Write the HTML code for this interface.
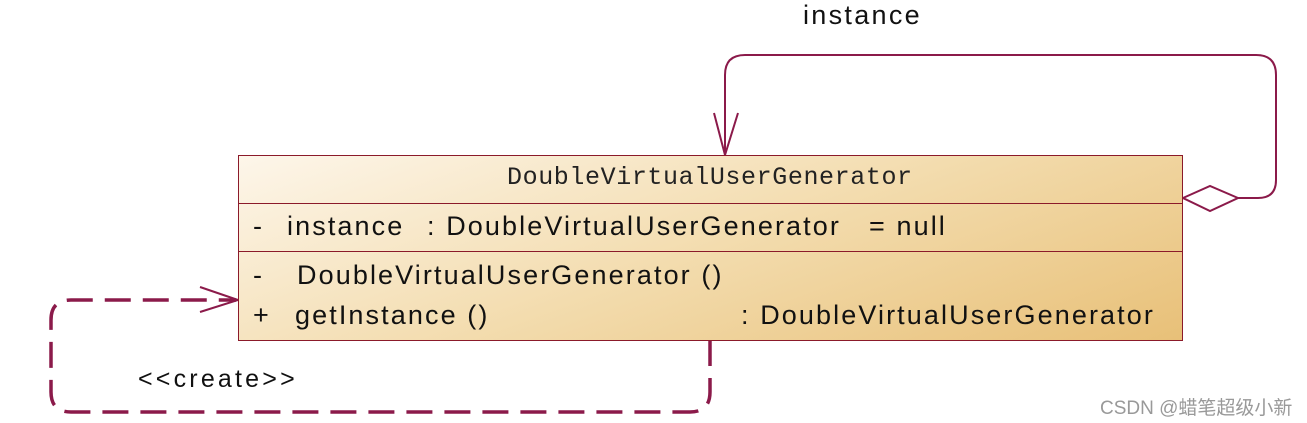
<!DOCTYPE html>
<html><head><meta charset="utf-8"><style>
body{margin:0;background:#fff;width:1307px;height:423px;overflow:hidden;position:relative;font-family:"Liberation Sans",sans-serif}
.box{position:absolute;left:238px;top:155px;width:943px;height:184px;border:1.5px solid #8b1a2a;background:linear-gradient(160deg,#fdf6ea 0%,#f3dcae 50%,#e8c078 100%)}
.t{position:absolute;font-size:27px;color:#111;white-space:pre;letter-spacing:2.1px}
.d{position:absolute;left:238px;width:945px;border-top:1.5px solid #8b1a2a}
</style></head><body>
<svg width="1307" height="423" style="position:absolute;left:0;top:0">
<g fill="none" stroke="#8b1a4a" stroke-width="2">
<path d="M725 155 V75 Q725 55 745 55 H1256 Q1276 55 1276 75 V180 Q1276 198 1258 198 H1238"/>
<path d="M714 113 L725 155 L738 113"/>
<path d="M1183 198 L1210 186 L1238 198 L1210 211 Z"/>
</g>
<g fill="none" stroke="#8b1a4a" stroke-width="3.5" stroke-dasharray="26 12">
<path d="M710 340 V392 Q710 412 690 412 H71 Q51 412 51 392 V320 Q51 300 71 300 H236"/>
</g>
<path d="M200 287 L238 300 L200 312" fill="none" stroke="#8b1a4a" stroke-width="2"/>
</svg>
<div class="box"></div>
<div class="d" style="top:203px"></div>
<div class="d" style="top:251px"></div>
<div class="t" style="left:507px;top:163px;font-family:'Liberation Mono',monospace;font-size:25px;color:#222;letter-spacing:0.6px">DoubleVirtualUserGenerator</div>
<div class="t" style="left:253px;top:211px">-</div>
<div class="t" style="left:287px;top:211px">instance</div>
<div class="t" style="left:427px;top:211px">: DoubleVirtualUserGenerator</div>
<div class="t" style="left:869px;top:211px">= null</div>
<div class="t" style="left:253px;top:260px">-</div>
<div class="t" style="left:297px;top:260px">DoubleVirtualUserGenerator ()</div>
<div class="t" style="left:253px;top:300px">+</div>
<div class="t" style="left:295px;top:300px">getInstance ()</div>
<div class="t" style="left:741px;top:300px">: DoubleVirtualUserGenerator</div>
<div class="t" style="left:803px;top:0px;letter-spacing:2.3px">instance</div>
<div class="t" style="left:138px;top:365px;font-size:25px;letter-spacing:3.2px">&lt;&lt;create&gt;&gt;</div>
<div class="t" style="left:1100px;top:393px;font-size:19px;color:#999;letter-spacing:0;font-family:'Liberation Sans','Noto Sans CJK SC',sans-serif">CSDN @蜡笔超级小新</div>
</body></html>
